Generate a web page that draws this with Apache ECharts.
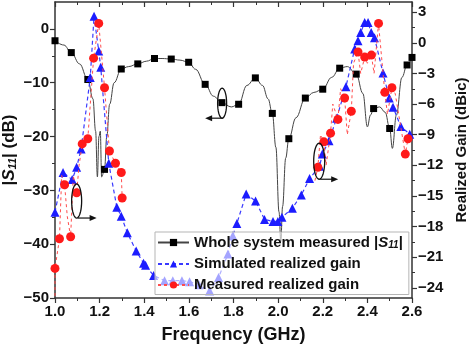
<!DOCTYPE html>
<html><head><meta charset="utf-8">
<script src="https://cdn.jsdelivr.net/npm/echarts@6/dist/echarts.min.js"></script>
<style>html,body{margin:0;padding:0;background:#fff}#c{width:474px;height:346px}</style>
</head><body><div id="c"></div>
<script>
// ---------- DATA ----------
const seriesNames = ['Whole system measured |S11|', 'Simulated realized gain', 'Measured realized gain'];

// Whole system measured |S11| (dB): marker points
const s11MarkFreq = [1.000, 1.073, 1.147, 1.222, 1.297, 1.371, 1.446, 1.521, 1.599, 1.673, 1.748, 1.823, 1.898, 1.974, 2.048, 2.122, 2.200, 2.276, 2.350, 2.428, 2.500, 2.578, 2.600];
const s11MarkVal  = [-2.2, -4.4, -9.4, -26.1, -7.45, -6.5, -5.5, -5.6, -6.2, -10.3, -13.7, -14.0, -9.1, -15.7, -20.4, -12.85, -11.2, -7.3, -8.4, -14.8, -18.5, -6.7, -5.3];
// Whole system measured |S11| (dB): curve points between markers
const s11CurveFreq = [1.040, 1.110, 1.170, 1.182, 1.190, 1.197, 1.203, 1.209, 1.232, 1.245, 1.265, 1.330, 1.410, 1.480, 1.560, 1.630, 1.710, 1.790, 1.860, 1.930, 1.955, 1.990, 2.004, 2.012, 2.020, 2.034, 2.080, 2.160, 2.240, 2.310, 2.380, 2.400, 2.414, 2.455, 2.480, 2.512, 2.530, 2.555];
const s11CurveVal  = [-3.0, -6.5, -13.0, -19.0, -27.5, -20.0, -19.0, -27.5, -20.0, -14.0, -10.0, -7.0, -6.0, -5.5, -5.8, -7.5, -12.5, -14.5, -10.5, -10.5, -13.0, -22.0, -34.0, -39.5, -33.0, -24.0, -16.5, -11.8, -9.0, -7.0, -12.0, -18.2, -16.0, -14.5, -15.5, -22.2, -16.0, -9.0];

// Simulated realized gain (dBic)
const simFreq = [1.000, 1.036, 1.077, 1.097, 1.117, 1.158, 1.175, 1.196, 1.205, 1.241, 1.277, 1.297, 1.324, 1.364, 1.397, 1.406, 1.442, 1.491, 1.528, 1.569, 1.603, 1.645, 1.693, 1.733, 1.775, 1.797, 1.815, 1.857, 1.899, 1.939, 1.977, 1.999, 2.017, 2.064, 2.104, 2.141, 2.186, 2.198, 2.228, 2.262, 2.304, 2.343, 2.358, 2.370, 2.388, 2.403, 2.417, 2.432, 2.470, 2.498, 2.515, 2.550, 2.590];
const simVal  = [-16.6, -12.7, -13.4, -12.2, -10.4, -3.4, 2.6, -0.8, -2.4, -11.8, -16.1, -17.0, -18.6, -20.4, -21.6, -21.8, -22.8, -23.3, -23.3, -23.3, -23.4, -23.7, -24.3, -23.0, -20.7, -18.9, -17.7, -14.8, -15.5, -17.3, -17.5, -17.5, -17.1, -16.2, -14.9, -13.3, -12.1, -10.9, -9.6, -7.4, -4.3, -0.6, 0.2, 1.0, 2.0, 2.0, 1.0, 0.5, -2.95, -5.4, -6.3, -8.2, -8.95];

// Measured realized gain (dBic): marker points
const measMarkFreq = [1.000, 1.020, 1.043, 1.070, 1.097, 1.122, 1.147, 1.173, 1.196, 1.222, 1.244, 1.271, 1.297, 1.301, 2.178, 2.205, 2.235, 2.268, 2.298, 2.328, 2.358, 2.388, 2.418, 2.450, 2.478, 2.510, 2.570, 2.582];
const measMarkVal  = [-22.1, -19.2, -13.9, -19.0, -14.7, -9.9, -9.4, -1.5, 1.9, -4.4, -10.6, -11.8, -12.7, -15.2, -12.2, -9.7, -8.85, -7.5, -5.4, -6.7, -0.9, -1.4, -1.2, 1.9, -4.85, -4.4, -10.9, -9.4];
// Measured realized gain (dBic): raw trace points between markers (null = no measurement)
const measCurveFreq = [1.000, 1.030, 1.055, 1.082, 1.108, 1.208, 1.700, 2.165, 2.190, 2.215, 2.245, 2.280, 2.310, 2.338, 2.370, 2.400, 2.430, 2.462, 2.490, 2.525, 2.600];
const measCurveVal  = [-24.8, -13.0, -17.0, -13.0, -12.0, -1.0, null, -13.5, -9.0, -12.0, -6.0, -4.5, -9.0, -2.0, -3.0, -2.0, -3.0, -1.0, -7.0, -5.0, -9.0];

// Axis tick values
const freqTicks = [1.0, 1.2, 1.4, 1.6, 1.8, 2.0, 2.2, 2.4, 2.6];
const s11Ticks = [-50, -40, -30, -20, -10, 0];
const s11MinorTicks = [-45, -35, -25, -15, -5];
const gainTicks = [-24, -21, -18, -15, -12, -9, -6, -3, 0, 3];
const gainMinorTicks = [-22.5, -19.5, -16.5, -13.5, -10.5, -7.5, -4.5, -1.5, 1.5];

// ---------- BUILD ----------
function merge(markF, markV, curveF, curveV, sym) {
  const items = [];
  curveF.forEach((f, i) => items.push({ value: [f, curveV[i] === null ? '-' : curveV[i]], symbol: 'none' }));
  markF.forEach((f, i) => items.push({ value: [f, markV[i]], symbol: sym }));
  items.sort((a, b) => a.value[0] - b.value[0]);
  return items;
}
const s11Data = merge(s11MarkFreq, s11MarkVal, s11CurveFreq, s11CurveVal, 'rect');
const measData = merge(measMarkFreq, measMarkVal, measCurveFreq, measCurveVal, 'circle');
const simData = simFreq.map((f, i) => [f, simVal[i]]);

const FF = '"Liberation Sans", Arial, sans-serif';
const AX = '#333';
const minus = v => String(v).replace('-', '\u2212');
const lblStyle = { fontSize: 15, fontWeight: 'bold', color: '#111', fontFamily: FF };
const richSub = {
  it: { fontSize: 17, fontWeight: 'bold', fontStyle: 'italic', fontFamily: FF, color: '#111' },
  sub: { fontSize: 11, fontWeight: 'bold', fontStyle: 'italic', fontFamily: FF, color: '#111', padding: [7, 0, 0, 0] },
  n: { fontSize: 17, fontWeight: 'bold', fontFamily: FF, color: '#111' }
};
const legRich = {
  n: { fontSize: 15, fontWeight: 'bold', fontFamily: FF, color: '#111' },
  it: { fontSize: 15, fontWeight: 'bold', fontStyle: 'italic', fontFamily: FF, color: '#111' },
  sub: { fontSize: 10, fontWeight: 'bold', fontStyle: 'italic', fontFamily: FF, color: '#111', padding: [6, 0, 0, 0] }
};

const chart = echarts.init(document.getElementById('c'), null, { renderer: 'canvas' });
const xBase = {
  type: 'value', min: 1.0, max: 2.6, interval: 0.2,
  axisLine: { show: true, onZero: false, lineStyle: { color: AX, width: 1.5 } },
  splitLine: { show: false }
};
const yBase = (min, max, pos) => ({
  type: 'value', min: min, max: max, position: pos,
  axisLine: { show: true, onZero: false, lineStyle: { color: AX, width: 1.5 } },
  splitLine: { show: false }
});

chart.setOption({
  animation: false,
  backgroundColor: '#fff',
  grid: { left: 55, right: 62, top: 2, bottom: 48, containLabel: false, outerBoundsMode: 'none' },
  xAxis: [
    Object.assign({}, xBase, {
      position: 'bottom',
      axisTick: { show: true, length: 5, lineStyle: { color: AX, width: 1.2 } },
      minorTick: { show: true, splitNumber: 2, length: 3, lineStyle: { color: AX, width: 1 } },
      axisLabel: Object.assign({ margin: 6, formatter: v => v.toFixed(1), customValues: freqTicks }, lblStyle),
      name: 'Frequency (GHz)', nameLocation: 'middle', nameGap: 28, nameMoveOverlap: false,
      nameTextStyle: { fontSize: 18, fontWeight: 'bold', color: '#111', fontFamily: FF }
    }),
    Object.assign({}, xBase, {
      position: 'top',
      axisTick: { show: true, inside: true, length: 5, lineStyle: { color: AX, width: 1.2 } },
      minorTick: { show: true, splitNumber: 2, length: 3, lineStyle: { color: AX, width: 1 } },
      axisLabel: { show: false }
    })
  ],
  yAxis: [
    Object.assign(yBase(-50, 5, 'left'), {
      axisTick: { show: true, length: 5, customValues: s11Ticks, lineStyle: { color: AX, width: 1.2 } },
      axisLabel: Object.assign({ margin: 6, customValues: s11Ticks, formatter: minus }, lblStyle),
      name: '{n||}{it|S}{sub|11}{n|| (dB)}', nameLocation: 'middle', nameGap: 37, nameRotate: 90, nameMoveOverlap: false,
      nameTextStyle: { rich: richSub }
    }),
    Object.assign(yBase(-25, 4, 'right'), {
      axisTick: { show: true, length: 5, customValues: gainTicks, lineStyle: { color: AX, width: 1.2 } },
      axisLabel: Object.assign({ margin: 6, customValues: gainTicks, formatter: minus }, lblStyle),
      name: 'Realized Gain (dBic)', nameLocation: 'middle', nameGap: 42, nameRotate: 90, nameMoveOverlap: false,
      nameTextStyle: { fontSize: 15, fontWeight: 'bold', color: '#111', fontFamily: FF }
    }),
    Object.assign(yBase(-50, 5, 'left'), {
      axisLine: { show: false },
      axisTick: { show: true, length: 3, customValues: s11MinorTicks, lineStyle: { color: AX, width: 1 } },
      axisLabel: { show: false }
    }),
    Object.assign(yBase(-25, 4, 'right'), {
      axisLine: { show: false },
      axisTick: { show: true, length: 3, customValues: gainMinorTicks, lineStyle: { color: AX, width: 1 } },
      axisLabel: { show: false }
    })
  ],
  legend: {
    orient: 'vertical', left: 155, top: 232,
    padding: [3, 6, 2, 2], itemGap: 6, itemWidth: 31, itemHeight: 9,
    backgroundColor: 'rgba(255,255,255,0.6)', borderColor: '#b5b5b5', borderWidth: 1,
    data: seriesNames,
    formatter: name => name === seriesNames[0]
      ? '{n|Whole system measured |}{it|S}{sub|11}{n||}'
      : '{n|' + name + '}',
    textStyle: { fontSize: 15, fontWeight: 'bold', color: '#111', fontFamily: FF, rich: legRich }
  },
  series: [
    {
      name: seriesNames[0], type: 'line', xAxisIndex: 0, yAxisIndex: 0,
      data: s11Data, symbol: 'rect', symbolSize: 7, showAllSymbol: true,
      smooth: 0.4, smoothMonotone: 'x',
      lineStyle: { color: '#444', width: 1 },
      itemStyle: { color: '#000' }, z: 2
    },
    {
      name: seriesNames[1], type: 'line', xAxisIndex: 0, yAxisIndex: 1,
      data: simData, symbol: 'triangle', symbolSize: 9, showAllSymbol: true,
      lineStyle: { color: '#3a3aff', width: 1.2, type: [4, 3] },
      itemStyle: { color: '#1c1cff' }, z: 3
    },
    {
      name: seriesNames[2], type: 'line', xAxisIndex: 0, yAxisIndex: 1,
      data: measData, symbol: 'circle', symbolSize: 9, showAllSymbol: true, connectNulls: false,
      lineStyle: { color: '#ff4d4d', width: 1, type: [3, 3] },
      itemStyle: { color: '#ff1a1a' }, z: 4
    }
  ]
});

// ---------- annotations (ellipses with arrows) ----------
// [freq, value, yAxisIndex, rx(px), ry(px), arrow direction, arrow length(px)]
const notes = [
  [1.097, -15.5, 1, 5, 17, 1, 19],
  [1.749, -13.8, 0, 4.5, 15, -1, 18],
  [2.184, -11.6, 1, 5.5, 18, 1, 18]
];
const g = [];
notes.forEach(n => {
  const p = chart.convertToPixel({ xAxisIndex: 0, yAxisIndex: n[2] }, [n[0], n[1]]);
  const pts = [];
  for (let k = 0; k < 48; k++) {
    const a = k / 48 * Math.PI * 2;
    pts.push([p[0] + n[3] * Math.cos(a), p[1] + n[4] * Math.sin(a)]);
  }
  g.push({ type: 'polygon', shape: { points: pts }, style: { fill: 'none', stroke: '#111', lineWidth: 1.3 }, z: 10 });
  const y0 = p[1] + n[4];
  const x0 = p[0] + 1;
  const x1 = x0 + n[5] * n[6];
  g.push({ type: 'line', shape: { x1: x0, y1: y0, x2: x1 - n[5] * 4, y2: y0 }, style: { stroke: '#111', lineWidth: 1.2 }, z: 10 });
  g.push({ type: 'polygon', shape: { points: [[x1, y0], [x1 - n[5] * 7, y0 - 3], [x1 - n[5] * 7, y0 + 3]] }, style: { fill: '#111' }, z: 10 });
});
chart.setOption({ graphic: g });
</script></body></html>
